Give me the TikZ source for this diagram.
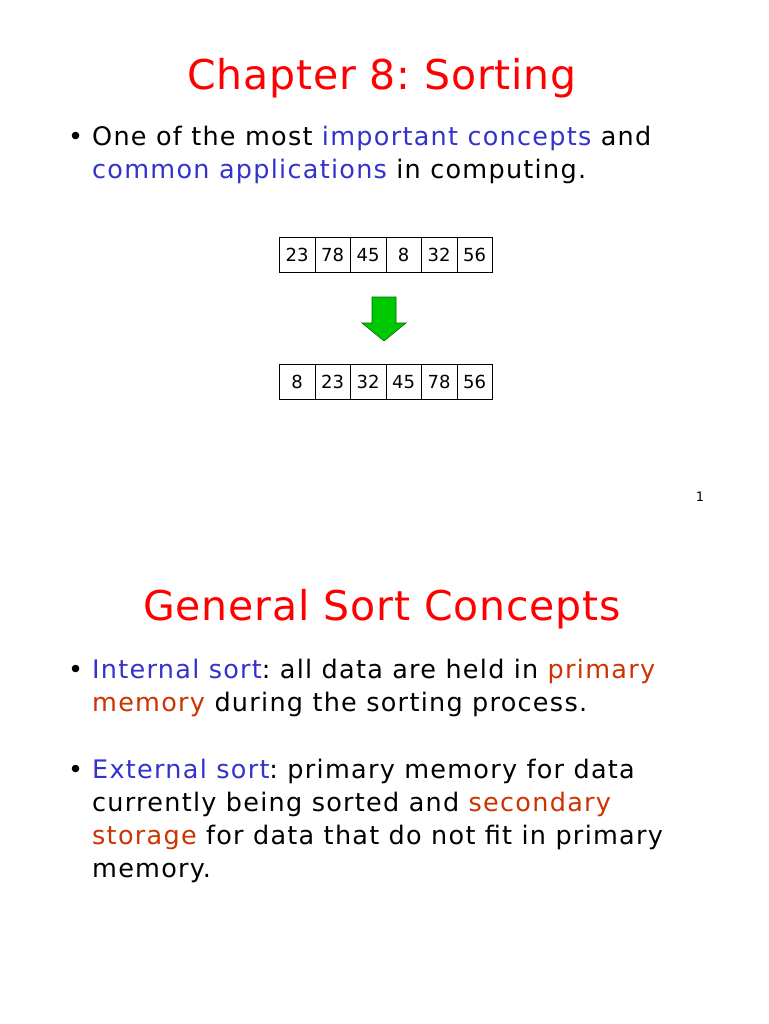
\documentclass[tikz,border=0pt]{standalone}
\usepackage{fontspec}
\setmainfont{DejaVu Sans}
\newfontfamily\bodyfont[LetterSpace=5]{DejaVu Sans}
\newfontfamily\titlefont[LetterSpace=2]{DejaVu Sans}
\frenchspacing
\usetikzlibrary{positioning}
\definecolor{hiblue}{RGB}{51,51,204}
\definecolor{hired}{RGB}{204,51,0}
\definecolor{arrowgreen}{RGB}{0,200,0}
\begin{document}
\begin{tikzpicture}[
        x=1pt, y=-1pt,
        title/.style={anchor=base, text=red, font=\titlefont\fontsize{41}{41}\selectfont},
        line/.style={anchor=base west, inner sep=0pt, font=\bodyfont\fontsize{25.5}{33}\selectfont},
        cell/.style={draw, thick, minimum width=35.5pt, minimum height=35pt,
                     inner sep=0pt, font=\fontsize{18}{18}\selectfont, anchor=north west}]

  \useasboundingbox[fill=white] (0,0) rectangle (768,1024);

  % slide 1 ------------------------------------------------
  \node[title] (title1) at (382,90) {Chapter 8: Sorting};
  \node[line] (b1) at (68,146) {•};
  \node[line] (l1) at (92,146) {One of the most \textcolor{hiblue}{important concepts} and};
  \node[line] (l2) at (92,179) {\textcolor{hiblue}{common applications} in computing.};

  \foreach \v [count=\i] in {23,78,45,8,32,56}
    \node[cell] (u\i) at ({279+35.5*(\i-1)},237) {\v};
  \foreach \v [count=\i] in {8,23,32,45,78,56}
    \node[cell] (s\i) at ({279+35.5*(\i-1)},364) {\v};

  \filldraw[fill=arrowgreen, draw=green!40!black, line width=0.6pt]
    (372,297) -- (396,297) -- (396,323) -- (406,323) -- (384,341)
    -- (362,323) -- (372,323) -- cycle;

  \node[font=\fontsize{13}{13}\rmfamily, anchor=base] (page1) at (700,501) {1};

  % slide 2 ------------------------------------------------
  \node[title] (title2) at (382,620) {General Sort Concepts};
  \node[line] (b2) at (68,678) {•};
  \node[line] (l3) at (92,678) {\textcolor{hiblue}{Internal sort}: all data are held in \textcolor{hired}{primary}};
  \node[line] (l4) at (92,711) {\textcolor{hired}{memory} during the sorting process.};
  \node[line] (b3) at (68,778) {•};
  \node[line] (l5) at (92,778) {\textcolor{hiblue}{External sort}: primary memory for data};
  \node[line] (l6) at (92,811) {currently being sorted and \textcolor{hired}{secondary}};
  \node[line] (l7) at (92,844) {\textcolor{hired}{storage} for data that do not fit in primary};
  \node[line] (l8) at (92,877) {memory.};

\end{tikzpicture}
\end{document}
